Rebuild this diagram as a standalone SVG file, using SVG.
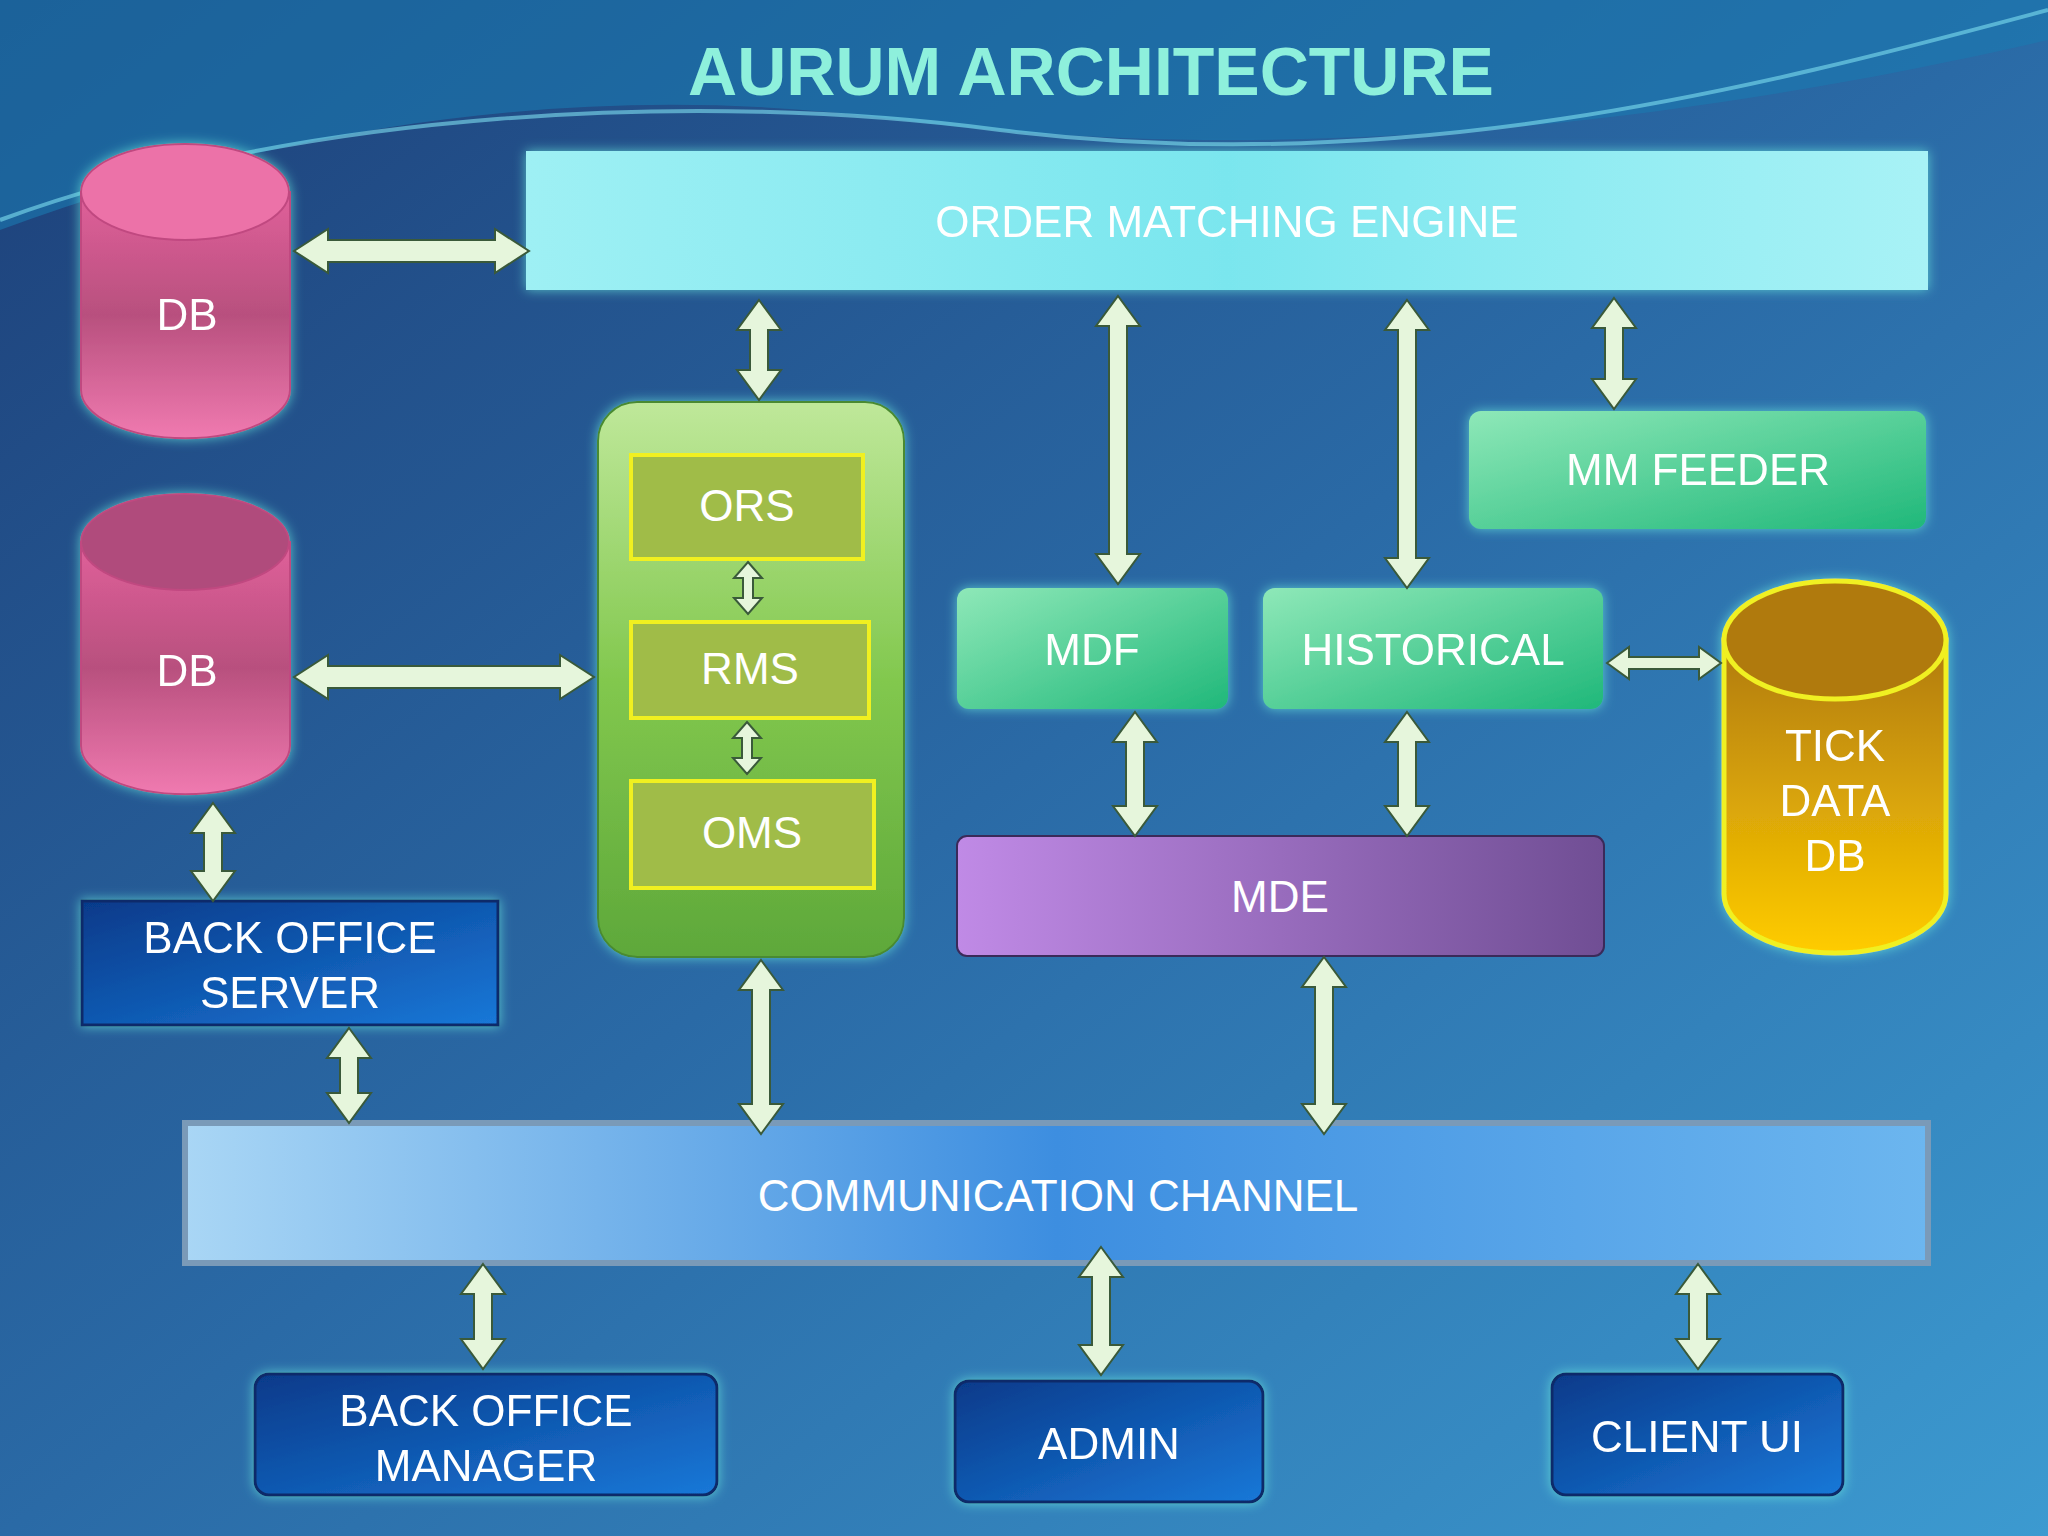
<svg xmlns="http://www.w3.org/2000/svg" width="2048" height="1536" viewBox="0 0 2048 1536">
<defs>
<linearGradient id="bg" x1="0" y1="0" x2="1" y2="1"><stop offset="0" stop-color="#1d3f78"/><stop offset="0.5" stop-color="#2a6aa6"/><stop offset="1" stop-color="#3c9ad0"/></linearGradient>
<linearGradient id="ome" x1="0" y1="0" x2="1" y2="0"><stop offset="0" stop-color="#9ef0f4"/><stop offset="0.5" stop-color="#7ae6ee"/><stop offset="1" stop-color="#a8f2f6"/></linearGradient>
<linearGradient id="comm" x1="0" y1="0" x2="1" y2="0"><stop offset="0" stop-color="#a9d6f5"/><stop offset="0.5" stop-color="#3d8ee0"/><stop offset="1" stop-color="#6cb6ef"/></linearGradient>
<linearGradient id="tg" x1="0" y1="0" x2="1" y2="1"><stop offset="0" stop-color="#8ee8b8"/><stop offset="1" stop-color="#20b87a"/></linearGradient>
<linearGradient id="mde" x1="0" y1="0" x2="1" y2="0"><stop offset="0" stop-color="#c08ae6"/><stop offset="1" stop-color="#704e94"/></linearGradient>
<linearGradient id="grn" x1="0" y1="0" x2="0" y2="1"><stop offset="0" stop-color="#bfe89a"/><stop offset="0.5" stop-color="#82c84e"/><stop offset="1" stop-color="#5ea83a"/></linearGradient>
<linearGradient id="pink" x1="0" y1="0" x2="0" y2="1"><stop offset="0" stop-color="#e0609a"/><stop offset="0.5" stop-color="#b8507e"/><stop offset="1" stop-color="#f07ab0"/></linearGradient>
<linearGradient id="gold" x1="0" y1="0" x2="0" y2="1"><stop offset="0" stop-color="#b07a10"/><stop offset="1" stop-color="#ffcc00"/></linearGradient>
<linearGradient id="dblue" x1="0" y1="0" x2="1" y2="1"><stop offset="0" stop-color="#063a8a"/><stop offset="1" stop-color="#1a78d8"/></linearGradient>
<filter id="glow" x="-20%" y="-20%" width="140%" height="140%"><feGaussianBlur in="SourceAlpha" stdDeviation="8"/><feFlood flood-color="#6ff0e0" flood-opacity="0.7"/><feComposite operator="in" in2="SourceAlpha"/><feGaussianBlur stdDeviation="6"/><feMerge><feMergeNode/><feMergeNode in="SourceGraphic"/></feMerge></filter>
</defs>
<style>
text{font-family:"Liberation Sans",Arial,sans-serif;fill:#fff;text-anchor:middle}
.l{font-size:44px}
.arr polygon{fill:#e6f6dc;stroke:#3a5a3a;stroke-width:2}
</style>
<rect width="2048" height="1536" fill="url(#bg)"/>
<path d="M0 0H2048V40C1700 120 1300 170 900 120C600 80 300 120 0 230Z" fill="#1a7ab0" opacity="0.6"/>
<path d="M0 220C300 110 700 90 1000 130C1400 180 1750 90 2048 10" fill="none" stroke="#7ee0f0" stroke-width="4" opacity="0.6"/>
<text x="1091" y="95" style="font-size:68px;font-weight:bold;fill:#8ef0dc">AURUM ARCHITECTURE</text>
<g id="ome" filter="url(#glow)"><rect x="526" y="151" width="1402" height="139" fill="url(#ome)"/><text class="l" x="1227" y="237">ORDER MATCHING ENGINE</text></g>
<g id="db1" filter="url(#glow)"><path d="M81 192V390A104 48 0 0 0 290 390V192Z" fill="url(#pink)" stroke="#c04880" stroke-width="2"/><ellipse cx="185" cy="192" rx="104" ry="48" fill="#ec72a8" stroke="#c04880" stroke-width="2"/><text class="l" x="187" y="330">DB</text></g>
<g id="db2" filter="url(#glow)"><path d="M81 542V746A104 48 0 0 0 290 746V542Z" fill="url(#pink)" stroke="#c04880" stroke-width="2"/><ellipse cx="185" cy="542" rx="104" ry="48" fill="#b04c7c" stroke="#c04880" stroke-width="2"/><text class="l" x="187" y="686">DB</text></g>
<g id="grp" filter="url(#glow)"><rect x="598" y="402" width="306" height="555" rx="39" fill="url(#grn)" stroke="#4a8a30" stroke-width="2"/></g>
<g id="ors"><rect x="631" y="455" width="232" height="104" fill="#a0bc48" stroke="#f0f020" stroke-width="4"/><text class="l" x="747" y="521">ORS</text></g>
<g id="rms"><rect x="631" y="622" width="238" height="96" fill="#a0bc48" stroke="#f0f020" stroke-width="4"/><text class="l" x="750" y="684">RMS</text></g>
<g id="oms"><rect x="631" y="781" width="243" height="107" fill="#a0bc48" stroke="#f0f020" stroke-width="4"/><text class="l" x="752" y="848">OMS</text></g>
<g id="mmf" filter="url(#glow)"><rect x="1469" y="411" width="457" height="118" rx="12" fill="url(#tg)"/><text class="l" x="1698" y="485">MM FEEDER</text></g>
<g id="mdf" filter="url(#glow)"><rect x="957" y="588" width="271" height="121" rx="12" fill="url(#tg)"/><text class="l" x="1092" y="665">MDF</text></g>
<g id="hist" filter="url(#glow)"><rect x="1263" y="588" width="340" height="121" rx="12" fill="url(#tg)"/><text class="l" x="1433" y="665">HISTORICAL</text></g>
<g id="mde"><rect x="957" y="836" width="647" height="120" rx="10" fill="url(#mde)" stroke="#3a2a5a" stroke-width="2"/><text class="l" x="1280" y="912">MDE</text></g>
<g id="tick" filter="url(#glow)"><path d="M1724 640V894A111 59 0 0 0 1946 894V640Z" fill="url(#gold)" stroke="#f0f020" stroke-width="5"/><ellipse cx="1835" cy="640" rx="111" ry="59" fill="#b07a10" stroke="#f0f020" stroke-width="5"/><text class="l" x="1835" y="761">TICK</text><text class="l" x="1835" y="816">DATA</text><text class="l" x="1835" y="871">DB</text></g>
<g id="bos" filter="url(#glow)"><rect x="82" y="901" width="416" height="124" fill="url(#dblue)" stroke="#0a2a6a" stroke-width="3"/><text class="l" x="290" y="953">BACK OFFICE</text><text class="l" x="290" y="1008">SERVER</text></g>
<g id="comm"><rect x="185" y="1123" width="1743" height="140" fill="url(#comm)" stroke="#7a9ab8" stroke-width="6"/><text class="l" x="1058" y="1211">COMMUNICATION CHANNEL</text></g>
<g id="bom" filter="url(#glow)"><rect x="255" y="1374" width="462" height="121" rx="14" fill="url(#dblue)" stroke="#0a2a6a" stroke-width="3"/><text class="l" x="486" y="1426">BACK OFFICE</text><text class="l" x="486" y="1481">MANAGER</text></g>
<g id="admin" filter="url(#glow)"><rect x="955" y="1381" width="308" height="121" rx="14" fill="url(#dblue)" stroke="#0a2a6a" stroke-width="3"/><text class="l" x="1109" y="1459">ADMIN</text></g>
<g id="client" filter="url(#glow)"><rect x="1552" y="1374" width="291" height="121" rx="14" fill="url(#dblue)" stroke="#0a2a6a" stroke-width="3"/><text class="l" x="1697" y="1452">CLIENT UI</text></g>
<g id="connectors" class="arr">
<polygon points="759,300 781,330 768,330 768,370 781,370 759,400 737,370 750,370 750,330 737,330"/>
<polygon points="1118,296 1140,326 1127,326 1127,554 1140,554 1118,584 1096,554 1109,554 1109,326 1096,326"/>
<polygon points="1407,300 1429,330 1416,330 1416,558 1429,558 1407,588 1385,558 1398,558 1398,330 1385,330"/>
<polygon points="1614,298 1636,328 1623,328 1623,379 1636,379 1614,409 1592,379 1605,379 1605,328 1592,328"/>
<polygon points="748,562 762,578 753,578 753,598 762,598 748,614 734,598 743,598 743,578 734,578"/>
<polygon points="747,722 761,738 752,738 752,758 761,758 747,774 733,758 742,758 742,738 733,738"/>
<polygon points="213,803 235,833 222,833 222,871 235,871 213,901 191,871 204,871 204,833 191,833"/>
<polygon points="349,1028 371,1058 358,1058 358,1093 371,1093 349,1123 327,1093 340,1093 340,1058 327,1058"/>
<polygon points="761,960 783,990 770,990 770,1104 783,1104 761,1134 739,1104 752,1104 752,990 739,990"/>
<polygon points="1324,957 1346,987 1333,987 1333,1104 1346,1104 1324,1134 1302,1104 1315,1104 1315,987 1302,987"/>
<polygon points="1135,712 1157,742 1144,742 1144,806 1157,806 1135,836 1113,806 1126,806 1126,742 1113,742"/>
<polygon points="1407,712 1429,742 1416,742 1416,806 1429,806 1407,836 1385,806 1398,806 1398,742 1385,742"/>
<polygon points="483,1264 505,1294 492,1294 492,1339 505,1339 483,1369 461,1339 474,1339 474,1294 461,1294"/>
<polygon points="1101,1247 1123,1277 1110,1277 1110,1345 1123,1345 1101,1375 1079,1345 1092,1345 1092,1277 1079,1277"/>
<polygon points="1698,1264 1720,1294 1707,1294 1707,1339 1720,1339 1698,1369 1676,1339 1689,1339 1689,1294 1676,1294"/>
<polygon points="294,251 328,229 328,240 495,240 495,229 529,251 495,273 495,262 328,262 328,273"/>
<polygon points="294,677 328,655 328,666 560,666 560,655 594,677 560,699 560,688 328,688 328,699"/>
<polygon points="1607,663 1629,647 1629,657 1699,657 1699,647 1721,663 1699,679 1699,669 1629,669 1629,679"/>
</g>
</svg>
